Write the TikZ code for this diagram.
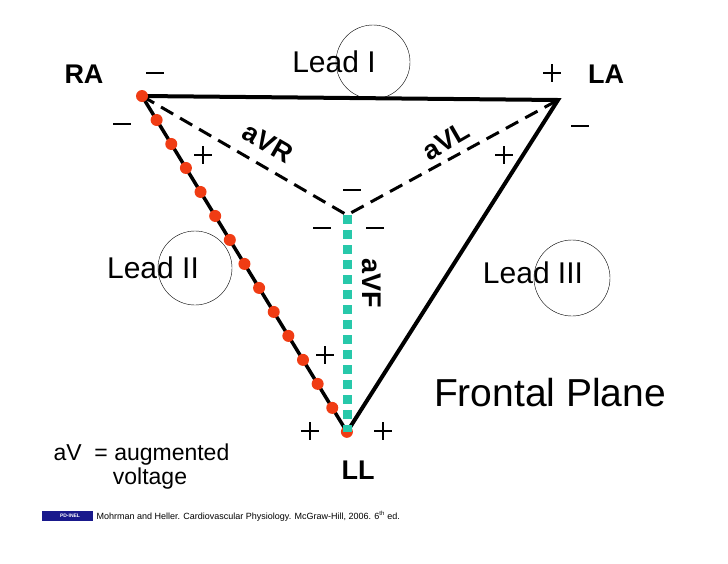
\documentclass[tikz,border=0pt]{standalone}
\usepackage{fontspec}
\setmainfont{Liberation Sans}
\usetikzlibrary{calc}
\definecolor{mint}{RGB}{40,200,170}
\definecolor{dotred}{RGB}{240,60,20}
\begin{document}
\begin{tikzpicture}[x=1pt,y=-1pt,
  lead/.style={font=\fontsize{30}{32}\selectfont},
  big/.style={font=\fontsize{27}{28}\selectfont\bfseries},
  ring/.style={draw,thin,circle}]
\useasboundingbox (0,0) rectangle (728,563);
\coordinate (RA) at (142,96);
\coordinate (LA) at (558,100);
\coordinate (LL) at (347,432);
\coordinate (C) at (347,215);
\draw[line width=4pt] (RA) -- (LA) -- (LL);
\draw[line width=3pt,dash pattern=on 14pt off 8pt] (RA) -- (C) -- (LA);
\draw[line width=3.5pt] (RA) -- (LL);
\foreach \t in {0,0.0714,...,1.0} \fill[dotred] ($(RA)!\t!(LL)$) circle (6pt);
\draw[line width=9pt,color=mint,dash pattern=on 9pt off 6pt] (C) -- (LL);
\node[ring,minimum size=74pt] (c1) at (373,62) {};
\node[ring,minimum size=74pt] (c2) at (195,268) {};
\node[ring,minimum size=76pt] (c3) at (572,278) {};
\node[lead] (l1) at (334,62) {Lead I};
\node[lead] (l2) at (153,268) {Lead II};
\node[lead] (l3) at (533,273) {Lead III};
\node[big] (ra) at (84,74) {RA};
\node[big] (la) at (606,74) {LA};
\node[big] (ll) at (358,470) {LL};
\node[big,rotate=-30] (avr) at (268,143) {aVR};
\node[big,rotate=30] (avl) at (446,141) {aVL};
\node[big,rotate=-90] (avf) at (372,283) {aVF};
\foreach \n/\x/\y in {m1/155/73,m2/122/124,m3/580/126,m4/352/190,m5/322/228,m6/375/228}
  \draw[line width=2pt] (\x-9,\y) -- (\x+9,\y);
\foreach \n/\x/\y in {p1/552/73,p2/203/155,p3/504/155,p4/325/355,p5/310/431,p6/383/431}
  {\draw[line width=2pt] (\x-9,\y) -- (\x+9,\y); \draw[line width=2pt] (\x,\y-9) -- (\x,\y+9);}
\node[font=\fontsize{39}{40}\selectfont] (fp) at (550,393) {Frontal Plane};
\node[font=\fontsize{23}{25}\selectfont,anchor=west] (av) at (50,455) {aV\ \ = augmented};
\node[font=\fontsize{23}{25}\selectfont] (vo) at (150,479) {voltage};
\fill[blue!50!black!90] (42,511) rectangle (93,521);
\node[font=\fontsize{5}{6}\selectfont\bfseries,text=white] (bd) at (70,516) {PD-INEL};
\node[font=\fontsize{9}{10}\selectfont,anchor=west] (ft) at (93,516) {Mohrman and Heller. Cardiovascular Physiology. McGraw-Hill, 2006. 6\textsuperscript{th} ed.};
\end{tikzpicture}
\end{document}
